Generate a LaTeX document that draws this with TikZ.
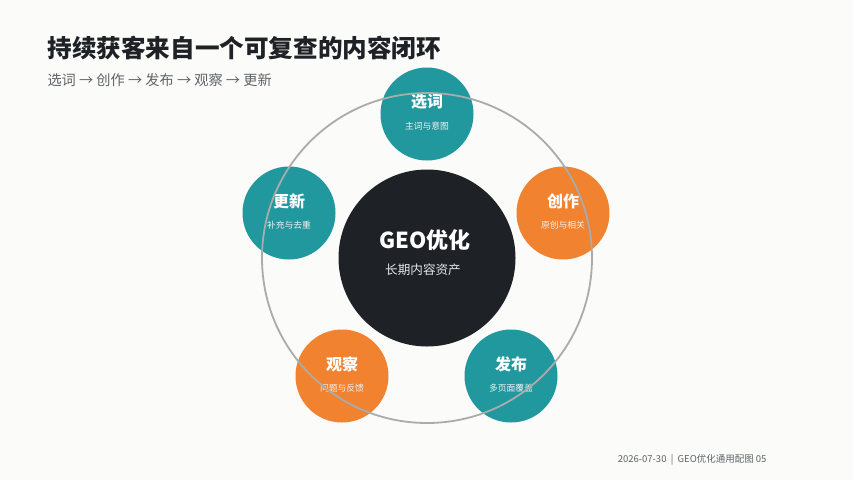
\documentclass[tikz,border=0pt]{standalone}
\usepackage{fontspec}
\setmainfont{Noto Sans CJK SC}
\usetikzlibrary{positioning}

\definecolor{bgpaper}{HTML}{FBFBF9}
\definecolor{inkdark}{HTML}{1E2226}
\definecolor{tealstep}{HTML}{21979E}
\definecolor{orangestep}{HTML}{F08230}
\definecolor{ringgray}{HTML}{A9ACAB}
\definecolor{subgray}{HTML}{5E6468}

\tikzset{
  hub/.style={circle,fill=inkdark,minimum size=177pt,inner sep=0pt},
  stagebox/.style={circle,minimum size=93pt,inner sep=0pt},
  stagename/.style={text=white,font=\fontsize{16}{16}\selectfont\bfseries},
  stagenote/.style={text=white!88!gray,font=\fontsize{8.8}{8.8}\selectfont}
}

\begin{document}
\begin{tikzpicture}[x=1pt,y=-1pt]
\fill[bgpaper] (0,0) rectangle (853,480);
\useasboundingbox (0,0) rectangle (853,480);

\node[anchor=base west,text=inkdark,font=\fontsize{24.6}{24.6}\selectfont\bfseries] (title) at (44,57) {持续获客来自一个可复查的内容闭环};
\node[anchor=base west,text=subgray,font=\fontsize{14.2}{14.2}\selectfont] (flow) at (44,85) {选词 → 创作 → 发布 → 观察 → 更新};

\node[hub] (geo) at (427,258) {};
\node[text=white,font=\fontsize{22}{22}\selectfont\bfseries] (geotitle) at (425,240) {GEO优化};
\node[text=white!80!gray,font=\fontsize{12.6}{12.6}\selectfont] (geonote) at (423,270) {长期内容资产};

\node[stagebox,fill=tealstep] (xuanci) at (427,114) {};
\node[stagebox,fill=orangestep] (chuangzuo) at (563,213) {};
\node[stagebox,fill=tealstep] (fabu) at (511,376) {};
\node[stagebox,fill=orangestep] (guancha) at (342,376) {};
\node[stagebox,fill=tealstep] (gengxin) at (289,213) {};

\node[stagename] (xuancit) at (427,102) {选词};
\node[stagenote] (xuancin) at (427,126) {主词与意图};
\node[stagename] (chuangzuot) at (563,201) {创作};
\node[stagenote] (chuangzuon) at (563,225) {原创与相关};
\node[stagename] (fabut) at (511,364) {发布};
\node[stagenote] (fabun) at (511,388) {多页面覆盖};
\node[stagename] (guanchat) at (342,364) {观察};
\node[stagenote] (guanchan) at (342,388) {问题与反馈};
\node[stagename] (gengxint) at (289,201) {更新};
\node[stagenote] (gengxinn) at (289,225) {补充与去重};

% the loop ring
\draw[ringgray,line width=1.8pt] (geo.center) circle[radius=165pt];

\node[anchor=base east,text=subgray,font=\fontsize{9.5}{9.5}\selectfont] (footer) at (770,462) {2026-07-30\ \ |\ \ GEO优化通用配图 05};
\end{tikzpicture}
\end{document}
